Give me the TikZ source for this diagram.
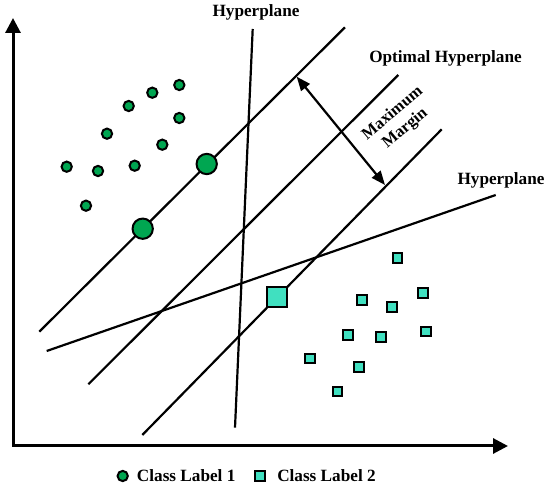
\documentclass[tikz,border=0pt]{standalone}
\usepackage{fontspec}
\setmainfont{Liberation Serif}
\usepackage{xcolor}
\usetikzlibrary{arrows.meta, positioning}

\definecolor{classone}{RGB}{0,166,81}
\definecolor{classtwo}{RGB}{64,224,192}

\begin{document}
\begin{tikzpicture}[x=1pt, y=-1pt, line width=2.2pt,
        dot/.style={circle, draw, fill=classone, line width=2pt, minimum size=10.3pt, inner sep=0pt},
        bigdot/.style={dot, minimum size=20.3pt},
        box/.style={rectangle, draw, fill=classtwo, line width=2pt, minimum size=9.6pt, inner sep=0pt},
        bigbox/.style={box, minimum size=20pt},
        lbl/.style={font=\fontsize{17.2}{20}\selectfont\bfseries, inner sep=0pt}]
        \useasboundingbox (0,0) rectangle (550,489);

        % axes
        \coordinate (ytop) at (13,18);
        \coordinate (orig) at (13,446);
        \coordinate (xend) at (508,446);
        \draw[line width=3pt, {Triangle[length=15pt,width=15pt]}-{Triangle[length=15pt,width=15pt]}] (ytop) -- (orig) -- (xend);

        % hyperplanes
        \coordinate (hpa1) at (252.7,29);    \coordinate (hpa2) at (235,427.7);
        \coordinate (mup1) at (39.3,331.7);  \coordinate (mup2) at (345,27.3);
        \coordinate (opt1) at (88.3,384.3);  \coordinate (opt2) at (398.3,75);
        \coordinate (mlo1) at (142.3,435);   \coordinate (mlo2) at (441.7,129.3);
        \coordinate (hpb1) at (46.7,351);    \coordinate (hpb2) at (495.7,195);
        \draw (hpa1) -- (hpa2);
        \draw (mup1) -- (mup2);
        \draw (opt1) -- (opt2);
        \draw (mlo1) -- (mlo2);
        \draw (hpb1) -- (hpb2);

        % margin
        \coordinate (mg1) at (296.7,76.7);
        \coordinate (mg2) at (385,185);
        \draw[{Triangle[length=14pt,width=11pt]}-{Triangle[length=14pt,width=11pt]}] (mg1) -- (mg2);

        % class 1
        \node[dot] (c1) at (179.3,85) {};
        \node[dot] (c2) at (152.3,92.7) {};
        \node[dot] (c3) at (128.7,106) {};
        \node[dot] (c4) at (179.3,118) {};
        \node[dot] (c5) at (107,133.7) {};
        \node[dot] (c6) at (162.3,144.7) {};
        \node[dot] (c7) at (66.7,166.7) {};
        \node[dot] (c8) at (98,171) {};
        \node[dot] (c9) at (134.7,165.7) {};
        \node[dot] (c10) at (86,205.7) {};
        \node[bigdot] (sv1) at (206.7,164) {};
        \node[bigdot] (sv2) at (142.7,228.7) {};

        % class 2
        \node[box] (s1) at (397.3,258.3) {};
        \node[box] (s2) at (422.7,293.3) {};
        \node[box] (s3) at (362,300) {};
        \node[box] (s4) at (391.7,307) {};
        \node[box] (s5) at (347.7,335) {};
        \node[box] (s6) at (381,337.3) {};
        \node[box] (s7) at (425.7,331.7) {};
        \node[box] (s8) at (310,358.7) {};
        \node[box] (s9) at (358.7,367) {};
        \node[box] (s10) at (337.3,391.7) {};
        \node[bigbox] (sv3) at (277.3,297.5) {};

        % labels
        \node[lbl] (hpa) at (256,12) {Hyperplane};
        \node[lbl] (opt) at (445.5,58) {Optimal Hyperplane};
        \node[lbl] (hpb) at (501,180) {Hyperplane};
        \node[font=\fontsize{16.5}{19.5}\selectfont\bfseries, align=center, rotate=40, inner sep=0pt] (mgtxt) at (399,121) {Maximum\\Margin};

        % legend
        \node[dot] (leg1) at (122.7,476) {};
        \node[lbl, right=7pt of leg1] (legtxt1) {Class Label 1};
        \node[box, minimum size=10.3pt] (leg2) at (260,476) {};
        \node[lbl, right=10pt of leg2] (legtxt2) {Class Label 2};
\end{tikzpicture}
\end{document}
